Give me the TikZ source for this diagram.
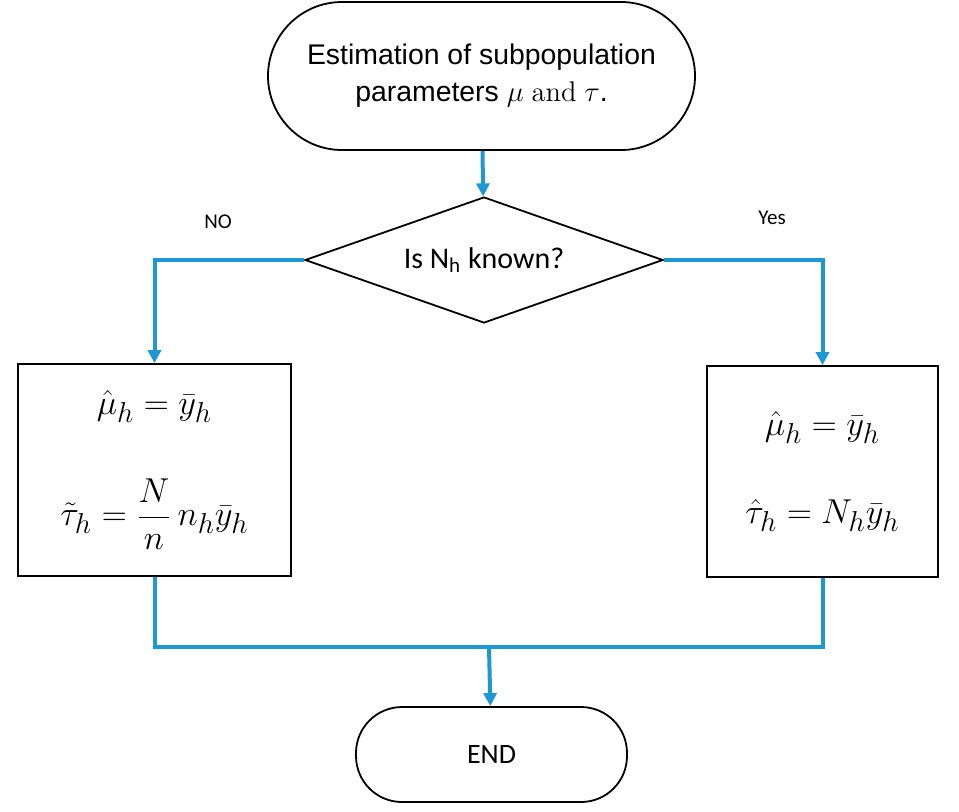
\documentclass[tikz,border=0pt]{standalone}
\usepackage{fontspec}
\usetikzlibrary{shapes.geometric,arrows.meta}
\newfontfamily\arialfont{Liberation Sans}
\newfontfamily\calibrifont{Carlito}
\definecolor{connblue}{RGB}{30,152,212}
\begin{document}
\begin{tikzpicture}[x=0.5pt,y=-0.5pt,
  terminal/.style={draw,line width=0.9pt,rounded corners=#1,align=center},
  decision/.style={draw,line width=0.9pt,diamond,aspect=2.84,inner sep=0pt,
    minimum width=179pt,minimum height=63pt,font=\calibrifont\fontsize{15}{17}\selectfont},
  formulabox/.style={draw,line width=0.9pt,align=center,font=\fontsize{19}{22}\selectfont},
  flow/.style={draw=connblue,line width=2pt},
  flowarrow/.style={flow,-{Triangle[length=6.5pt,width=6.5pt]}},
  branch/.style={font=\calibrifont\fontsize{10.5}{12}\selectfont}]
  \useasboundingbox (0,0) rectangle (959,811);
  % nodes
  \node[terminal=37pt,minimum width=213.5pt,minimum height=74pt,
    font=\arialfont\fontsize{14.2}{18.5}\selectfont] (start) at (481.5,76)
    {Estimation of subpopulation\\ parameters $\mu\ \mathrm{and}\ \tau$.};
  \node[decision] (test) at (484,260) {Is N\textsubscript{h} known?};
  \node[formulabox,minimum width=136.5pt,minimum height=106pt] (lbox) at (154.5,470)
    {$\hat{\mu}_h=\bar{y}_h$\\[27pt]
     $\tilde{\tau}_h=\displaystyle\frac{N}{n}\,n_h\bar{y}_h$};
  \node[formulabox,minimum width=115.5pt,minimum height=105.5pt] (rbox) at (822.5,471.5)
    {$\hat{\mu}_h=\bar{y}_h$\\[22pt]
     $\hat{\tau}_h=N_h\bar{y}_h$};
  \node[terminal=23pt,minimum width=135.5pt,minimum height=47.5pt,
    font=\calibrifont\fontsize{14}{16}\selectfont] (end) at (491.5,754.5) {END};
  \node[branch] (no) at (218,222) {NO};
  \node[branch] (yes) at (772,218) {Yes};
  \coordinate (join) at (489,647);
  % connectors
  \draw[flowarrow] (start) -- (test);
  \draw[flowarrow] (test.west) -| (lbox);
  \draw[flowarrow] (test.east) -| (rbox);
  \draw[flow] (lbox.south) |- (join) -| (rbox.south);
  \draw[flowarrow] (join) -- (end);
\end{tikzpicture}
\end{document}
